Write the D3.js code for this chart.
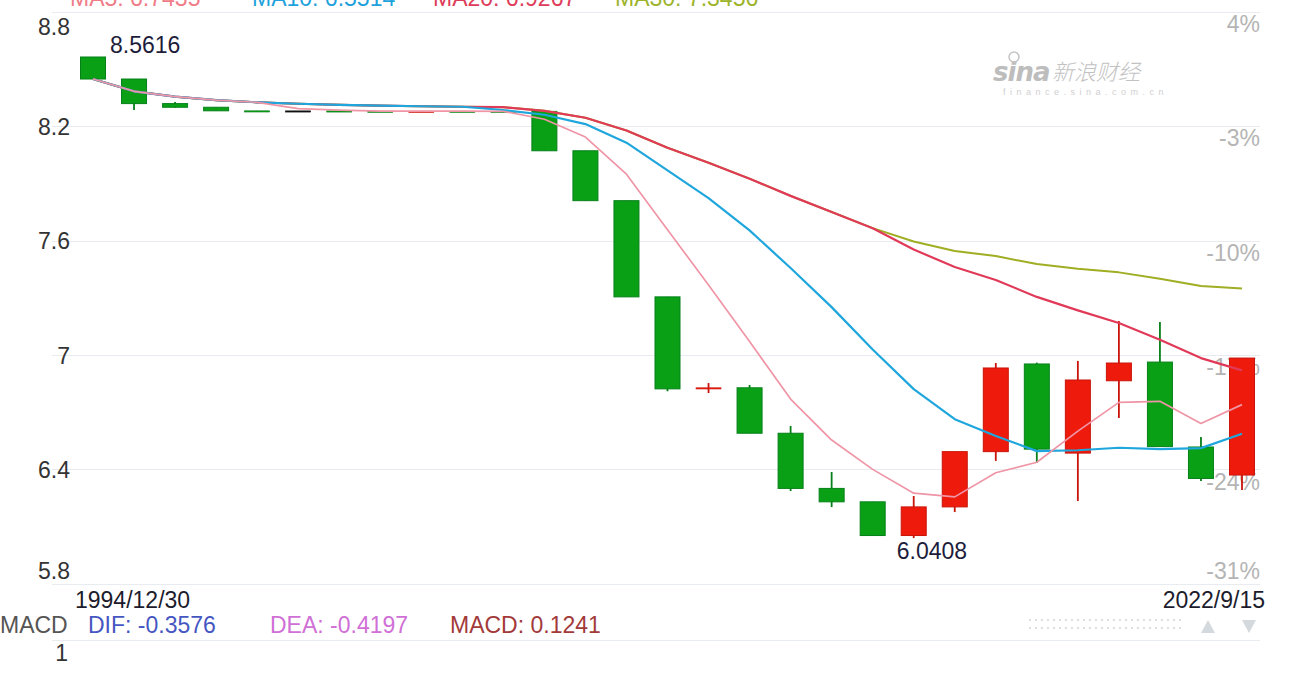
<!DOCTYPE html>
<html><head><meta charset="utf-8">
<script src="https://cdn.jsdelivr.net/npm/d3@7"></script>
<style>
body{margin:0;background:#fff;overflow:hidden;}
svg{display:block;font-family:"Liberation Sans",Arial,Helvetica,sans-serif;}
</style>
</head><body>
<svg id="c" width="1306" height="674"></svg>
<script>
// ---------- data ----------
const years = ["1994","1995","1996","1997","1998","1999","2000","2001","2002","2003","2004","2005","2006","2007","2008","2009","2010","2011","2012","2013","2014","2015","2016","2017","2018","2019","2020","2021","2022"];
const openV  = [8.5616,8.4462,8.3174,8.2982,8.2796,8.2793,8.2793,8.2774,8.2766,8.2773,8.2767,8.2765,8.0702,7.8087,7.3046,6.8225,6.8282,6.5900,6.3009,6.2306,6.0540,6.2040,6.4936,6.9530,6.4860,6.8650,6.9630,6.5180,6.3710];
const highV  = [8.5616,8.4462,8.3260,8.2982,8.2796,8.2793,8.2793,8.2774,8.2773,8.2773,8.2767,8.2765,8.0702,7.8087,7.3046,6.8530,6.8430,6.6280,6.3870,6.2306,6.2610,6.4936,6.9580,6.9600,6.9690,7.1780,7.1730,6.5700,6.9840];
const lowV   = [8.4462,8.2840,8.2960,8.2796,8.2789,8.2793,8.2774,8.2766,8.2766,8.2767,8.2765,8.0702,7.8087,7.3046,6.8100,6.8010,6.5900,6.2870,6.2030,6.0540,6.0408,6.1770,6.4450,6.4340,6.2350,6.6700,6.5200,6.3400,6.2930];
const closeV = [8.4462,8.3174,8.2982,8.2796,8.2789,8.2793,8.2774,8.2766,8.2773,8.2767,8.2765,8.0702,7.8087,7.3046,6.8225,6.8282,6.5900,6.3009,6.2306,6.0540,6.2040,6.4936,6.9320,6.5068,6.8690,6.9580,6.5200,6.3530,6.9840];

const ma5  = [8.4462,8.3818,8.3539,8.3354,8.3241,8.2907,8.2827,8.2784,8.2779,8.2775,8.2769,8.2355,8.1419,7.9473,7.6565,7.3668,7.0708,6.7692,6.5544,6.4007,6.2759,6.2566,6.3828,6.4381,6.6011,6.7519,6.7572,6.6414,6.7400];
const ma10 = [8.4462,8.3818,8.3539,8.3354,8.3241,8.3166,8.3110,8.3067,8.3034,8.3008,8.2838,8.2591,8.2101,8.1126,7.9670,7.8219,7.6531,7.4556,7.2509,7.0286,6.8214,6.6637,6.5760,6.4963,6.5009,6.5139,6.5069,6.5121,6.5874];
const ma20 = [8.4462,8.3818,8.3539,8.3354,8.3241,8.3166,8.3110,8.3067,8.3034,8.3008,8.2986,8.2795,8.2433,8.1763,8.0860,8.0074,7.9240,7.8338,7.7495,7.6647,7.5526,7.4614,7.3931,7.3044,7.2339,7.1679,7.0800,6.9838,6.9192];
const ma30 = [8.4462,8.3818,8.3539,8.3354,8.3241,8.3166,8.3110,8.3067,8.3034,8.3008,8.2986,8.2795,8.2433,8.1763,8.0860,8.0074,7.9240,7.8338,7.7495,7.6647,7.5951,7.5451,7.5184,7.4763,7.4520,7.4330,7.3992,7.3618,7.3488];

const priceTicks = [8.8, 8.2, 7.6, 7.0, 6.4, 5.8];
const priceTickLabels = ["8.8","8.2","7.6","7","6.4","5.8"];
const pctTickLabels = ["4%","-3%","-10%","-17%","-24%","-31%"];
const maNames  = ["MA5","MA10","MA20","MA30"];
const maValues = ["6.7435","6.5514","6.9267","7.3456"];
const dateLabels = ["1994/12/30","2022/9/15"];
const macdNames  = ["MACD","DIF: -0.3576","DEA: -0.4197","MACD: 0.1241"];
const macdAxisLabel = "1";
const maxLabel = "8.5616";
const minLabel = "6.0408";

// ---------- setup ----------
const svg = d3.select("#c");
const x = d3.scalePoint().domain(years).range([93, 1242]);
const y = d3.scaleLinear().domain([5.8, 8.8]).range([584, 11.5]);
const gridL = 52, gridR = 1260;
const FS = 23;

// gridlines
svg.append("g").selectAll("line").data(priceTicks).join("line")
  .attr("x1", gridL).attr("x2", gridR)
  .attr("y1", d => Math.round(y(d)) + 0.5).attr("y2", d => Math.round(y(d)) + 0.5)
  .attr("stroke", "#e8ebef").attr("stroke-width", 1);

// left axis
const ax = svg.append("g").attr("transform", "translate(70,0)")
  .call(d3.axisLeft(y).tickValues(priceTicks).tickFormat((d, i) => priceTickLabels[i]).tickSize(0).tickPadding(0));
ax.select(".domain").remove();
ax.selectAll("text").attr("font-size", FS).attr("fill", "#333")
  .attr("font-family", "'Liberation Sans',Arial,sans-serif")
  .attr("dy", (d, i) => i === 0 ? "1.0em" : (i === priceTicks.length - 1 ? "-0.22em" : "0.36em"));

// right axis (percent)
const axR = svg.append("g").attr("transform", `translate(${gridR},0)`)
  .call(d3.axisRight(y).tickValues(priceTicks).tickFormat((d, i) => pctTickLabels[i]).tickSize(0).tickPadding(0));
axR.select(".domain").remove();
axR.selectAll("text").attr("font-size", FS).attr("fill", "#b4b4b4").attr("text-anchor", "end").attr("x", 0)
  .attr("font-family", "'Liberation Sans',Arial,sans-serif")
  .attr("dy", (d, i) => i === priceTicks.length - 1 ? "-0.22em" : "0.86em");

// watermark
const wm = svg.append("g").attr("fill", "#bdbdbd");
wm.append("text").attr("x", 993).attr("y", 81).attr("font-size", 26).attr("font-style", "italic")
  .attr("font-weight", "bold").attr("font-family", "'DejaVu Sans',sans-serif").attr("letter-spacing", -1).text("sina");
wm.append("circle").attr("cx", 1014).attr("cy", 57).attr("r", 5).attr("fill", "none").attr("stroke", "#c4c4c4").attr("stroke-width", 1.5);
wm.append("text").attr("x", 1052).attr("y", 80).attr("font-size", 22).attr("font-family", "'Noto Sans CJK SC',sans-serif")
  .attr("font-weight", 300).attr("font-style", "italic").attr("fill", "#c2c2c2").text("新浪财经");
wm.append("text").attr("x", 1003).attr("y", 95).attr("font-size", 9).attr("letter-spacing", 4.5).attr("fill", "#cfcfcf")
  .text("finance.sina.com.cn");

// candles
const idx = d3.range(years.length);
const upFill = "#ee1b0c", upStroke = "#c9140a", dnFill = "#09a015", dnStroke = "#07801a";
const colFill = i => closeV[i] > openV[i] ? upFill : (closeV[i] < openV[i] ? dnFill : "#111");
const colStroke = i => closeV[i] > openV[i] ? upStroke : (closeV[i] < openV[i] ? dnStroke : "#111");
const cg = svg.append("g");
cg.selectAll("line.w").data(idx).join("line").attr("class", "w")
  .attr("x1", i => x(years[i])).attr("x2", i => x(years[i]))
  .attr("y1", i => y(highV[i])).attr("y2", i => y(lowV[i]))
  .attr("stroke", colStroke).attr("stroke-width", 1.8);
const bw = 25;
cg.selectAll("rect").data(idx).join("rect")
  .attr("x", i => x(years[i]) - bw / 2).attr("width", bw)
  .attr("y", i => Math.min(y(openV[i]), y(closeV[i])))
  .attr("height", i => Math.max(1.2, Math.abs(y(openV[i]) - y(closeV[i]))))
  .attr("fill", colFill).attr("stroke", colStroke)
  .attr("stroke-width", i => Math.abs(y(openV[i]) - y(closeV[i])) < 2 ? 0.6 : 1);

// MA lines
const line = d3.line().x((d, i) => x(years[i])).y(d => y(d)).curve(d3.curveLinear);
const maSeries = [
  {data: ma30, color: "#9fae22", w: 2},
  {data: ma20, color: "#e03a58", w: 2.2},
  {data: ma10, color: "#1ea6dd", w: 2.2},
  {data: ma5,  color: "#ef95a6", w: 1.7}
];
svg.append("g").selectAll("path").data(maSeries).join("path")
  .attr("d", d => line(d.data)).attr("fill", "none")
  .attr("stroke", d => d.color).attr("stroke-width", d => d.w)
  .attr("stroke-linejoin", "round");

// extreme labels
const iMax = d3.maxIndex(highV), iMin = d3.minIndex(lowV);
svg.append("text").attr("x", x(years[iMax]) + 17).attr("y", y(highV[iMax]) - 4)
  .attr("font-size", FS).attr("fill", "#1d1d3b").text(maxLabel);
svg.append("text").attr("x", x(years[iMin]) - 17).attr("y", y(lowV[iMin]) + 21)
  .attr("font-size", FS).attr("fill", "#1d1d3b").text(minLabel);

// top legend (clipped at the top edge)
const legX = [70, 252, 433, 615];
const legC = ["#f07c88", "#1ea2dc", "#de3c58", "#9cb42a"];
svg.append("g").selectAll("text").data(maNames).join("text")
  .attr("x", (d, i) => legX[i]).attr("y", 6).attr("font-size", FS)
  .attr("fill", (d, i) => legC[i]).text((d, i) => d + ": " + maValues[i]);

// bottom date labels
svg.append("text").attr("x", 75).attr("y", 608).attr("font-size", FS).attr("fill", "#1c1c2c").text(dateLabels[0]);
svg.append("text").attr("x", 1265).attr("y", 608).attr("text-anchor", "end").attr("font-size", FS).attr("fill", "#1c1c2c").text(dateLabels[1]);

// MACD legend row
const macdX = [0, 88, 270, 450];
const macdC = ["#555555", "#4657c2", "#d06fd6", "#a33a3a"];
svg.append("g").selectAll("text").data(macdNames).join("text")
  .attr("x", (d, i) => macdX[i]).attr("y", 633).attr("font-size", FS)
  .attr("fill", (d, i) => macdC[i]).text(d => d);

// MACD panel top line and axis label
svg.append("line").attr("x1", gridL).attr("x2", gridR).attr("y1", 640.5).attr("y2", 640.5).attr("stroke", "#e8ebef");
svg.append("text").attr("x", 68).attr("y", 661).attr("text-anchor", "end").attr("font-size", FS).attr("fill", "#333").text(macdAxisLabel);

// scroller dots and arrows
const dots = [];
for (let r = 0; r < 2; r++) for (let c = 0; c < 26; c++) dots.push([1030 + c * 6, 620 + r * 8]);
svg.append("g").selectAll("circle").data(dots).join("circle")
  .attr("cx", d => d[0]).attr("cy", d => d[1]).attr("r", 0.9).attr("fill", "#cfcfcf");
svg.append("path").attr("d", "M1201,633 L1215,633 L1208,620 Z").attr("fill", "#d3d9dc");
svg.append("path").attr("d", "M1242,620 L1256,620 L1249,633 Z").attr("fill", "#d3d9dc");
</script>
</body></html>
